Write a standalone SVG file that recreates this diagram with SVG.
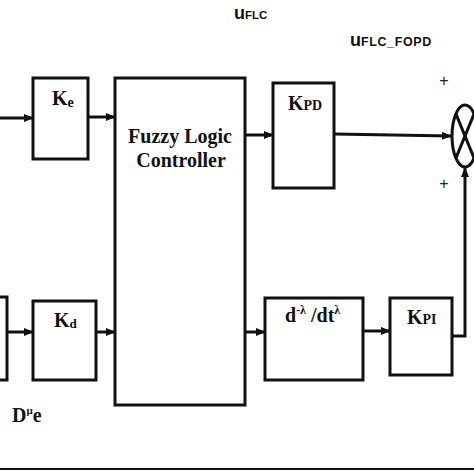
<svg xmlns="http://www.w3.org/2000/svg" width="474" height="474" viewBox="0 0 474 474">
<style>
.box{fill:#fff;stroke:#111;stroke-width:3}
.ln{fill:none;stroke:#111;stroke-width:3}
.t{font-family:"Liberation Serif","Times New Roman",serif;font-weight:bold;fill:#111}
.big{font-size:20px}
.sub{font-size:14px}
.sup{font-size:12px}
.s{font-family:"Liberation Sans",Arial,sans-serif;font-weight:bold;fill:#111}
.plus{font-family:"Liberation Sans",Arial,sans-serif;font-size:16px;fill:#222;text-anchor:middle}
</style>
<defs>
<marker id="ah" markerWidth="10" markerHeight="8" refX="9" refY="4" orient="auto" markerUnits="userSpaceOnUse">
<path d="M0,0 L10,4 L0,8 Z" fill="#111"/>
</marker>
</defs>
<rect width="474" height="474" fill="#fff"/>

<g id="connectors">
<line class="ln" x1="0" y1="118" x2="33" y2="118" marker-end="url(#ah)"/>
<line class="ln" x1="88" y1="117" x2="115" y2="117" marker-end="url(#ah)"/>
<line class="ln" x1="245" y1="135" x2="273" y2="135" marker-end="url(#ah)"/>
<line class="ln" x1="334" y1="134" x2="451" y2="136" marker-end="url(#ah)"/>
<line class="ln" x1="7" y1="332" x2="33" y2="332" marker-end="url(#ah)"/>
<line class="ln" x1="96" y1="332" x2="115" y2="332" marker-end="url(#ah)"/>
<line class="ln" x1="245" y1="332" x2="265" y2="332" marker-end="url(#ah)"/>
<line class="ln" x1="363" y1="331" x2="390" y2="331" marker-end="url(#ah)"/>
<polyline class="ln" points="452,336 465,336 465,168" marker-end="url(#ah)"/>
<line x1="0" y1="469" x2="474" y2="469" stroke="#111" stroke-width="2"/>
</g>

<g id="input-box">
<rect class="box" x="-10" y="297" width="17" height="83"/>
</g>

<g id="Ke">
<rect class="box" x="33" y="78" width="55" height="81"/>
<text class="t" x="52" y="105"><tspan class="big">K</tspan><tspan class="sub" dy="2">e</tspan></text>
</g>

<g id="Kd">
<rect class="box" x="33" y="301" width="63" height="79"/>
<text class="t" x="54" y="327"><tspan class="big">K</tspan><tspan font-size="13px" dy="1">d</tspan></text>
</g>

<g id="FLC">
<rect class="box" x="115" y="78" width="130" height="327"/>
<text class="t big" x="180" y="143" text-anchor="middle">Fuzzy Logic</text>
<text class="t big" x="181" y="167" text-anchor="middle">Controller</text>
</g>

<g id="KPD">
<rect class="box" x="273" y="83" width="61" height="105"/>
<text class="t" x="288" y="110"><tspan class="big">K</tspan><tspan class="sub">PD</tspan></text>
</g>

<g id="frac">
<rect class="box" x="265" y="298" width="98" height="82"/>
<text class="t" x="285" y="322"><tspan class="big">d</tspan><tspan class="sup" dy="-8">-λ</tspan><tspan class="big" dy="8"> /dt</tspan><tspan class="sup" dy="-8">λ</tspan></text>
</g>

<g id="KPI">
<rect class="box" x="390" y="298" width="62" height="77"/>
<text class="t" x="407" y="324"><tspan class="big">K</tspan><tspan class="sub">PI</tspan></text>
</g>

<g id="sum">
<ellipse cx="465" cy="136" rx="13" ry="31" fill="#fff" stroke="#111" stroke-width="3"/>
<line class="ln" x1="455.9" y1="113.9" x2="474.1" y2="158.1"/>
<line class="ln" x1="474.1" y1="113.9" x2="455.9" y2="158.1"/>
<text class="plus" x="444" y="86">+</text>
<text class="plus" x="444" y="189">+</text>
</g>

<g id="labels">
<text class="s" x="234" y="19"><tspan font-size="18px">u</tspan><tspan font-size="11.5px">FLC</tspan></text>
<text class="s" x="350" y="46"><tspan font-size="18px">u</tspan><tspan font-size="12.5px" letter-spacing="0.6">FLC_FOPD</tspan></text>
<text class="t" x="12" y="422"><tspan class="big">D</tspan><tspan font-size="11px" dy="-8">μ</tspan><tspan class="big" dy="8">e</tspan></text>
</g>
</svg>
